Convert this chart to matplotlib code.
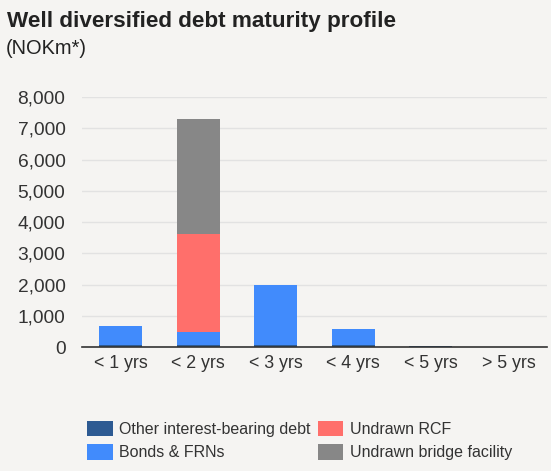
import matplotlib.pyplot as plt
import numpy as np

plt.rcParams['font.family'] = ['Liberation Sans', 'DejaVu Sans']

kategorie = ["< 1 yrs", "< 2 yrs", "< 3 yrs", "< 4 yrs", "< 5 yrs", "> 5 yrs"]
inny_dlug = [70, 70, 70, 70, 40, 0]
obligacje = [610, 410, 1920, 510, 10, 0]
rcf = [0, 3140, 0, 0, 0, 0]
bridge = [0, 3670, 0, 0, 0, 0]

tlo = "#f5f4f2"
kolory = ["#2d5a92", "#418bfc", "#ff6f6b", "#878787"]
etykiety = ["Other interest-bearing debt", "Bonds & FRNs", "Undrawn RCF", "Undrawn bridge facility"]

fig = plt.figure(figsize=(5.51, 4.71), dpi=100, facecolor=tlo)
ax = fig.add_axes([0.149, 0.263, 0.844, 0.531], facecolor=tlo)

x = np.arange(len(kategorie))
szer = 0.555
dol = np.zeros(len(kategorie))
slupki = []
for seria, kolor, et in zip([inny_dlug, obligacje, rcf, bridge], kolory, etykiety):
    b = ax.bar(x, seria, szer, bottom=dol, color=kolor, label=et, zorder=3)
    slupki.append(b)
    dol = dol + np.array(seria)

ax.set_xlim(-0.5, len(kategorie) - 0.5)
ax.set_ylim(0, 8000)
ax.set_yticks(range(0, 8001, 1000))
ax.set_yticklabels([f"{v:,}" for v in range(0, 8001, 1000)])
ax.set_xticks(x)
ax.set_xticklabels(kategorie)
ax.grid(axis="y", color="#e2e2e2", linewidth=1, zorder=0)
for s in ["top", "right", "left"]:
    ax.spines[s].set_visible(False)
ax.spines["bottom"].set_color("#333333")
ax.spines["bottom"].set_linewidth(1.2)
ax.spines["bottom"].set_zorder(4)
ax.tick_params(axis="y", length=0, pad=12, labelsize=13.8, labelcolor="#333333")
ax.tick_params(axis="x", length=0, pad=6, labelsize=12.8, labelcolor="#333333")

fig.text(0.012, 0.943, "Well diversified debt maturity profile", fontsize=16.2,
         fontweight="bold", color="#222222")
fig.text(0.01, 0.886, "(NOKm*)", fontsize=14.4, color="#222222")

fig.legend(handles=slupki, labels=etykiety, ncol=2, loc="lower left",
           bbox_to_anchor=(0.132, -0.008), frameon=False, fontsize=11.5,
           handlelength=1.6, handleheight=1.1, handletextpad=0.4,
           columnspacing=0.45, labelspacing=0.45, labelcolor="#333333")

plt.savefig("out.png", format="png", facecolor=tlo)
